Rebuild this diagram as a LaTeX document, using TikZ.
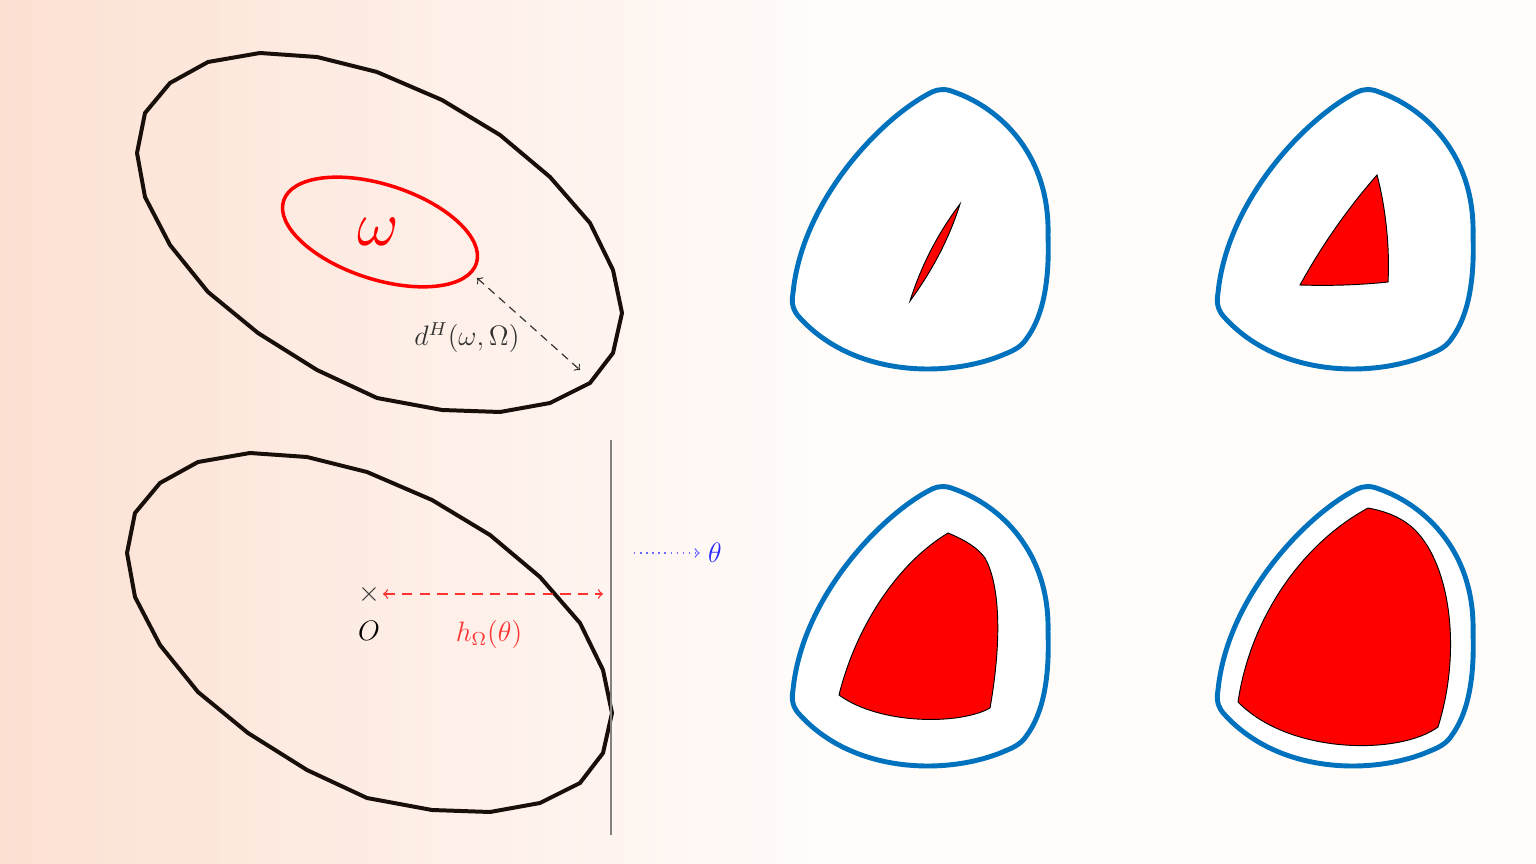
\documentclass[tikz,border=0pt]{standalone}
\usepackage{amsmath}
\usepackage{amssymb}
\usepackage{xcolor}
\usepackage{tikz}
\usetikzlibrary{arrows}

\definecolor{matblue}{RGB}{0,114,189}
\definecolor{salmonbg}{RGB}{252,224,210}
\definecolor{paperbg}{RGB}{255,252,250}
\definecolor{setblack}{RGB}{25,15,10}
\definecolor{hred}{RGB}{255,50,50}
\definecolor{thblue}{RGB}{40,40,255}
\definecolor{dgray}{RGB}{50,50,50}

\begin{document}
\begin{tikzpicture}[x=0.015cm,y=-0.015cm,>=to,semithick]
    \tikzstyle{outerset}=[draw=setblack, line width=1.7pt, line join=round]
    \tikzstyle{omegaset}=[draw=red, line width=1.5pt]
    \tikzstyle{bluehull}=[draw=matblue, fill=white, line width=2.1pt, line join=round]
    \tikzstyle{redset}=[fill=red, draw=black, line width=0.4pt]
    \tikzstyle{gaparrow}=[<->, draw=dgray, line width=0.5pt, dash pattern=on 3.5pt off 2.5pt]

    % background
    \shade[left color=salmonbg, right color=paperbg] (0,0) rectangle (820,864);
    \fill[paperbg] (820,0) rectangle (1536,864);
    \useasboundingbox (0,0) rectangle (1536,864);

    % the two convex sets Omega
    \foreach \sx/\sy in {0/0,-10/400}
        \draw[outerset, shift={(\sx,\sy)}] (260,53) -- (317,57) -- (377,72) -- (442,100) -- (500,135)
            -- (550,177) -- (590,223) -- (613,270) -- (622,313) -- (613,353) -- (590,383) -- (550,403)
            -- (500,412) -- (442,410) -- (377,398) -- (317,370) -- (258,333) -- (208,292) -- (170,245)
            -- (145,197) -- (137,153) -- (145,113) -- (170,83) -- (208,62) -- cycle;

    % omega inside Omega
    \draw[omegaset, rotate around={-18:(380,232)}] (380,232) ellipse [x radius=1.52cm, y radius=0.71cm];
    \node[text=red, scale=2.7] (w) at (378,232) {$\omega$};
    \coordinate (wb) at (477,278);
    \coordinate (Wb) at (580,370);
    \draw[gaparrow] (wb) -- (Wb);
    \node[text=dgray] (dH) at (467,338) {\large $d^H(\omega,\Omega)$};

    % support function
    \coordinate (sT) at (611,440);
    \coordinate (sB) at (611,835);
    \draw[draw=gray, line width=0.8pt] (sT) -- (sB);
    \node[inner sep=1pt, text=dgray] (O) at (369,594) {\large $\times$};
    \node (Olab) at (369,631) {\large $O$};
    \coordinate (hT) at (603,594);
    \draw[<->, hred, line width=0.6pt, dash pattern=on 4.5pt off 3pt] (O) -- (hT);
    \node[text=hred] (h) at (489,634) {\large $h_\Omega(\theta)$};
    \node[text=thblue] (th) at (715,553) {\large $\theta$};
    \coordinate (tS) at (634,553);
    \draw[->, thblue!70, line width=0.6pt, dotted] (tS) -- (th);

    % blue hulls
    \foreach \sx/\sy in {0/0,425/0,0/397,425/397}
        \draw[bluehull, shift={(\sx,\sy)}] (932,92) .. controls (938,89) and (946,88.5) .. (954,92)
            .. controls (1000,108) and (1050,155) .. (1048,235)
            .. controls (1050,290) and (1040,320) .. (1027,338)
            .. controls (1022,346) and (1015,350) .. (1005,354)
            .. controls (950,378) and (855,378) .. (800,318)
            .. controls (793,311) and (791,303) .. (793,293)
            .. controls (802,200) and (882,117) .. (932,92) -- cycle;

    % red sets
    \draw[redset] (910,301) .. controls (921,266) and (938,233) .. (960,204)
        .. controls (949,239) and (932,271) .. (910,301) -- cycle;
    \draw[redset] (1377,175) .. controls (1385,205) and (1390,245) .. (1388,282)
        .. controls (1360,285) and (1330,286) .. (1300,285)
        .. controls (1322,245) and (1348,208) .. (1377,175) -- cycle;
    \draw[redset] (948,533) .. controls (965,540) and (978,548) .. (985,558)
        .. controls (1000,585) and (1002,640) .. (990,708)
        .. controls (960,725) and (880,725) .. (839,695)
        .. controls (855,630) and (895,565) .. (948,533) -- cycle;
    \draw[redset] (1368,508) .. controls (1390,512) and (1405,520) .. (1415,530)
        .. controls (1450,565) and (1462,650) .. (1438,727)
        .. controls (1400,755) and (1290,755) .. (1238,702)
        .. controls (1250,620) and (1300,545) .. (1368,508) -- cycle;
\end{tikzpicture}
\end{document}
